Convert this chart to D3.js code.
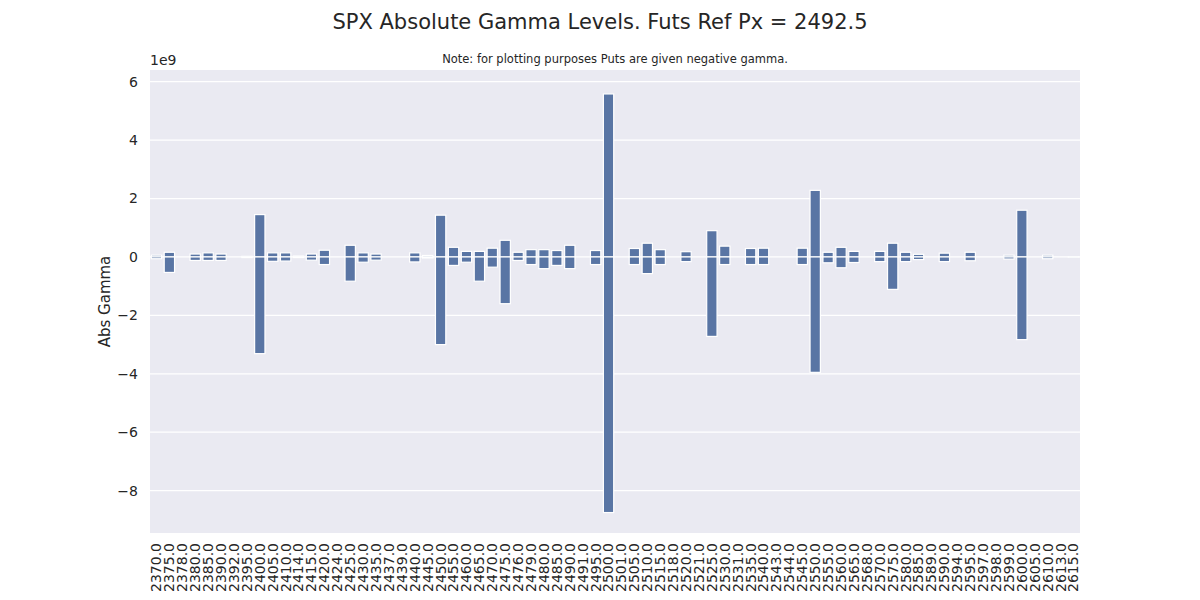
<!DOCTYPE html>
<html>
<head>
<meta charset="utf-8">
<script src="https://cdn.jsdelivr.net/npm/d3@7"></script>
<style>
  body { margin: 0; background: #fff; }
  text { font-family: "DejaVu Sans", sans-serif; fill: #262626; }
</style>
</head>
<body>
<svg id="chart" width="1200" height="600"></svg>
<script>
// strikes, as shown on the x axis
let strikes = [2370,2375,2378,2380,2385,2390,2392,2395,2400,2405,2410,2414,2415,2420,2424,2425,2430,2435,2437,2439,2440,2445,2450,2455,2460,2465,2470,2475,2476,2479,2480,2485,2490,2491,2495,
  2500,2501,2505,2510,2515,2518,2520,2521,2525,2530,2531,2535,2540,2543,2544,2545,2550,2555,2560,2565,2568,2570,2575,2580,2585,2589,2590,2594,2595,2597,2598,2599,2600,2605,2610,2613,2615];
// call gamma (1e9)
let callGamma = [0.06,0.16,0,0.1,0.14,0.1,0,0.02,1.45,0.14,0.14,0.03,0.1,0.23,0,0.4,0.14,0.1,0,0,0.14,0.05,1.43,0.33,0.19,0.19,0.3,0.57,0.16,0.25,0.25,0.22,0.4,0,0.22,
  5.58,0,0.29,0.47,0.25,0,0.18,0,0.9,0.37,0,0.29,0.3,0,0,0.3,2.28,0.16,0.33,0.19,0,0.19,0.47,0.16,0.09,0,0.13,0,0.16,0,0,0.06,1.6,0,0.06,0,0.01];
// put gamma (1e9), plotted negative
let putGamma = [-0.06,-0.53,0,-0.12,-0.12,-0.12,0,-0.02,-3.31,-0.15,-0.14,-0.02,-0.11,-0.26,0,-0.83,-0.18,-0.11,0,0,-0.17,-0.04,-3.0,-0.29,-0.18,-0.83,-0.35,-1.6,-0.12,-0.26,-0.4,-0.29,-0.4,0,-0.26,
  -8.75,0,-0.26,-0.57,-0.26,0,-0.16,0,-2.72,-0.26,0,-0.26,-0.26,0,0,-0.26,-3.95,-0.2,-0.37,-0.19,0,-0.16,-1.11,-0.16,-0.09,0,-0.16,0,-0.13,0,0,-0.07,-2.83,0,-0.06,0,-0.01];
let yTicks = [-8,-6,-4,-2,0,2,4,6];

var svg = d3.select("#chart"),
  margin = {left: 150, right: 120, top: 70, bottom: 67},
  W = 1200 - margin.left - margin.right,
  H = 600 - margin.top - margin.bottom;

var x = d3.scaleBand().domain(strikes).range([0, W]).paddingInner(0.2).paddingOuter(0.1),
  y = d3.scaleLinear().domain([-9.45, 6.4]).range([H, 0]);

svg.append("text").attr("x", 600).attr("y", 29).attr("text-anchor", "middle")
  .style("font-size", "21px").text("SPX Absolute Gamma Levels. Futs Ref Px = 2492.5");

var g = svg.append("g").attr("transform", "translate(" + margin.left + "," + margin.top + ")");

g.append("rect").attr("width", W).attr("height", H).attr("fill", "#eaeaf2");

g.selectAll(".grid").data(yTicks).enter().append("line")
  .attr("x1", 0).attr("x2", W)
  .attr("y1", function(d) { return y(d); }).attr("y2", function(d) { return y(d); })
  .attr("stroke", "#fff").attr("stroke-width", 1.2);

g.append("text").attr("x", W / 2).attr("y", -7).attr("text-anchor", "middle")
  .style("font-size", "11.5px").text("Note: for plotting purposes Puts are given negative gamma.");

function drawBars(vals) {
  g.append("g").selectAll("rect").data(strikes).enter().append("rect")
    .attr("x", function(d) { return x(d); })
    .attr("width", x.bandwidth())
    .attr("y", function(d, i) { return y(Math.max(0, vals[i])); })
    .attr("height", function(d, i) { return Math.abs(y(vals[i]) - y(0)); })
    .attr("fill", "#5975a4").attr("stroke", "#fff").attr("stroke-width", 1.2);
}
drawBars(callGamma);
drawBars(putGamma);

// y axis
g.selectAll(".yt").data(yTicks).enter().append("text")
  .attr("x", -12).attr("y", function(d) { return y(d); }).attr("dy", "0.35em")
  .attr("text-anchor", "end").style("font-size", "14px")
  .text(function(d) { return d < 0 ? "\u2212" + Math.abs(d) : d; });
g.append("text").attr("x", 0).attr("y", -5).style("font-size", "14px").text("1e9");
g.append("text").attr("transform", "translate(-40," + (H / 2) + ") rotate(-90)")
  .attr("text-anchor", "middle").style("font-size", "15px").text("Abs Gamma");

// x axis labels, rotated
g.selectAll(".xt").data(strikes).enter().append("text")
  .attr("transform", function(d) { return "translate(" + (x(d) + x.bandwidth() / 2) + "," + (H + 10) + ") rotate(-90)"; })
  .attr("text-anchor", "end").attr("dy", "0.35em").style("font-size", "14px")
  .text(function(d) { return d.toFixed(1); });
</script>
</body>
</html>
